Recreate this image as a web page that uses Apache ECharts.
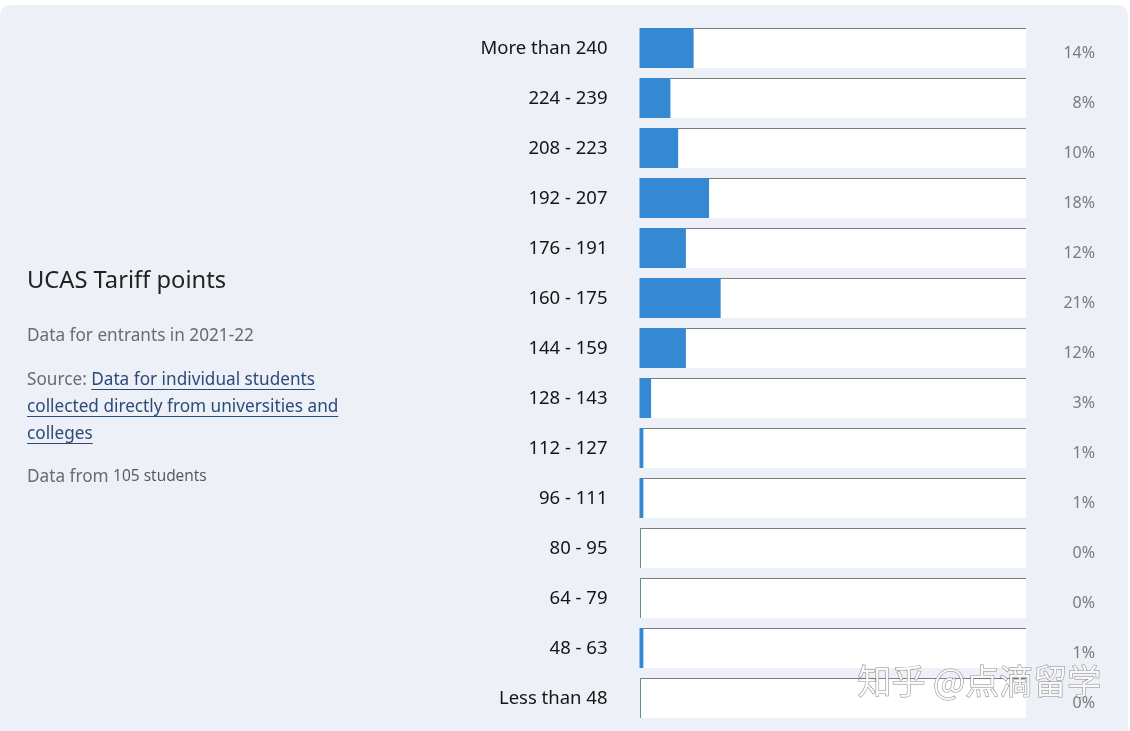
<!DOCTYPE html>
<html>
<head>
<meta charset="utf-8">
<script src="https://cdn.jsdelivr.net/npm/echarts@6/dist/echarts.min.js"></script>
<style>
html,body{margin:0;padding:0;background:#fff;}
#c{width:1130px;height:731px;}
</style>
</head>
<body>
<div id="c"></div>
<script>
const categories = ['More than 240','224 - 239','208 - 223','192 - 207','176 - 191','160 - 175','144 - 159','128 - 143','112 - 127','96 - 111','80 - 95','64 - 79','48 - 63','Less than 48'];
const percentValues = [14,8,10,18,12,21,12,3,1,1,0,0,1,0];
const percentLabels = ['14%','8%','10%','18%','12%','21%','12%','3%','1%','1%','0%','0%','1%','0%'];
const scaleMax = 100;

const titleText = 'UCAS Tariff points';
const subText = 'Data for entrants in 2021-22';
const sourceLines = ['Data for individual students','collected directly from universities and','colleges'];
const watermark = '知乎 @点滴留学';

const chart = echarts.init(document.getElementById('c'), null, {renderer:'canvas'});

const LEFT_FONT = '"Noto Sans", "Open Sans", sans-serif';
const mctx = document.createElement('canvas').getContext('2d');
function tw(text, size){ mctx.font = size + 'px ' + LEFT_FONT; return mctx.measureText(text).width; }

const smallSize = 17.2;
const srcX = 27 + tw('Source: ', smallSize);
const linkColor = '#2c4a78';
function line(y, x, text){ return {type:'line', shape:{x1:x,y1:y,x2:x+tw(text,smallSize),y2:y}, style:{stroke:linkColor,lineWidth:1}}; }
const graphics = [
  {type:'rect', z:-10, shape:{x:0,y:5,width:1128,height:740,r:10}, style:{fill:'#edf0f7'}},
  {type:'text', left:27, top:269, style:{text:titleText, font:'23.7px '+LEFT_FONT, fill:'#222'}},
  {type:'text', left:27, top:327.5, style:{text:subText, font:smallSize+'px '+LEFT_FONT, fill:'#6b6b6b'}},
  {type:'text', left:27, top:371.5, style:{text:'Source: ', font:smallSize+'px '+LEFT_FONT, fill:'#6b6b6b'}},
  {type:'text', left:srcX, top:371.5, style:{text:sourceLines[0], font:smallSize+'px '+LEFT_FONT, fill:linkColor}},
  {type:'text', left:27, top:398.5, style:{text:sourceLines[1], font:smallSize+'px '+LEFT_FONT, fill:linkColor}},
  {type:'text', left:27, top:425.5, style:{text:sourceLines[2], font:smallSize+'px '+LEFT_FONT, fill:linkColor}},
  line(389.5, srcX, sourceLines[0]),
  line(416.5, 27, sourceLines[1]),
  line(443.5, 27, sourceLines[2]),
  {type:'text', left:27, top:468.5, style:{text:'{a|Data from }{b|105 students}', font:smallSize+'px '+LEFT_FONT,
     rich:{a:{fontSize:smallSize, fontFamily:LEFT_FONT, fill:'#6b6b6b'}, b:{fontSize:15.5, fontFamily:'"Open Sans", sans-serif', fill:'#555555'}}}},
  {type:'text', z:100, left:857, top:664, style:{text:watermark, font:'34px "Noto Sans CJK SC", sans-serif', fill:'rgba(255,255,255,0.85)', stroke:'rgba(110,110,110,0.8)', lineWidth:1}}
];

chart.setOption({
  animation:false,
  backgroundColor:'#ffffff',
  graphic: graphics,
  grid:{left:639.5, right:104, top:23, bottom:8, containLabel:false},
  xAxis:{type:'value', min:0, max:scaleMax, show:false},
  yAxis:[
    {type:'category', data:categories, inverse:true, axisLine:{show:false}, axisTick:{show:false},
     axisLabel:{margin:32, fontSize:18.5, color:'#151515', fontFamily:'"Noto Sans", sans-serif', formatter:function(v){return '{a|'+v+'}';},
       rich:{a:{fontSize:18.5, color:'#151515', fontFamily:'"Noto Sans", sans-serif', padding:[2,0,0,0]}}}},
    {type:'category', data:percentLabels, inverse:true, position:'right', axisLine:{show:false}, axisTick:{show:false},
     axisLabel:{margin:69, align:'right', fontSize:16, color:'#7a7a7a', fontFamily:'"Noto Sans", sans-serif',
       formatter:function(v){return '{a|'+v+'}';},
       rich:{a:{fontSize:16, color:'#7a7a7a', fontFamily:'"Noto Sans", sans-serif', padding:[10,0,0,0]}}}}
  ],
  series:[
    {type:'custom', yAxisIndex:0, z:1,
     data: percentValues.map((v,i)=>[scaleMax, i]),
     renderItem:function(params, api){
       const end = api.coord([api.value(0), api.value(1)]);
       const start = api.coord([0, api.value(1)]);
       const h = 40;
       const y0 = Math.round(start[1] - h/2);
       const x0 = Math.round(start[0]);
       const x1 = Math.round(end[0]);
       return {type:'group', children:[
         {type:'rect', shape:{x:x0, y:y0, width:x1-x0, height:h}, style:{fill:'#ffffff'}},
         {type:'line', shape:{x1:x0, y1:y0+0.5, x2:x1, y2:y0+0.5}, style:{stroke:'#7d7d7d', lineWidth:1}},
         {type:'line', shape:{x1:x0+0.5, y1:y0, x2:x0+0.5, y2:y0+h}, style:{stroke:'#5f8e94', lineWidth:1}}
       ]};
     }},
    {type:'bar', yAxisIndex:0, z:3, data:percentValues, barWidth:40, itemStyle:{color:'#3589d3'}}
  ]
});
</script>
</body>
</html>
